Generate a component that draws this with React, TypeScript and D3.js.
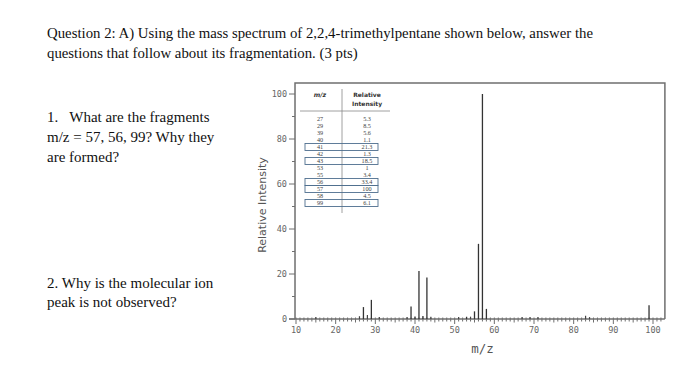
import React from "react";
import * as d3 from "d3";

const titleLines = [
  "Question 2: A) Using the mass spectrum of 2,2,4-trimethylpentane shown below, answer the",
  "questions that follow about its fragmentation. (3 pts)",
];
const q1Lines = ["1.   What are the fragments", "m/z = 57, 56, 99? Why they", "are formed?"];
const q2Lines = ["2. Why is the molecular ion", "peak is not observed?"];

const mzValues = [27, 29, 39, 40, 41, 42, 43, 53, 55, 56, 57, 58, 99];
const intensities = [5.3, 8.5, 5.6, 1.1, 21.3, 1.3, 18.5, 1, 3.4, 33.4, 100, 4.5, 6.1];
const intensityLabels = ["5.3", "8.5", "5.6", "1.1", "21.3", "1.3", "18.5", "1", "3.4", "33.4", "100", "4.5", "6.1"];
const smallMz = [15, 26, 28, 31, 38, 44, 51, 54, 67, 69, 71, 83, 84];
const smallIntensity = [0.5, 0.8, 1.3, 0.4, 0.5, 0.6, 0.4, 0.6, 0.5, 0.4, 0.5, 1.0, 0.4];
const highlightedMz = [41, 43, 56, 57, 99];
const yTicks = [0, 20, 40, 60, 80, 100];
const yMinorTicks = [10, 30, 50, 70, 90];
const xTicks = [10, 20, 30, 40, 50, 60, 70, 80, 90, 100];

export default function App() {
  const x = d3.scaleLinear().domain([10, 100]).range([296, 653]);
  const y = d3.scaleLinear().domain([0, 100]).range([319, 94]);
  const left = x(9.75);
  const right = x(103);
  const top = y(104.9);
  const bottom = y(0);
  const minorX = d3.range(10, 103, 1);
  const axisGray = "#6f6f6f";
  const textGray = "#555";

  const rowY = (i: number) => 119 + i * 7;
  const tableLeft = 300;
  const tableRight = 390;
  const divX = 342;

  return (
    <svg
      width={700}
      height={375}
      style={{ position: "absolute", left: 0, top: 0, background: "#fff" }}
    >
      <rect width={700} height={375} fill="#fff" />
      {titleLines.map((t, i) => (
        <text key={t} x={47} y={38 + i * 20} fontFamily="Liberation Serif" fontSize={14.8} fill="#111">
          {t}
        </text>
      ))}
      {q1Lines.map((t, i) => (
        <text
          key={t}
          x={47}
          y={122 + i * 20}
          fontFamily="Liberation Serif"
          fontSize={15}
          fill="#111"
          style={{ whiteSpace: "pre" }}
        >
          {t}
        </text>
      ))}
      {q2Lines.map((t, i) => (
        <text key={t} x={47} y={288 + i * 19} fontFamily="Liberation Serif" fontSize={15} fill="#111">
          {t}
        </text>
      ))}

      {/* frame */}
      <path
        d={`M${left},${bottom}V${top}H${right}V${bottom}`}
        fill="none"
        stroke={axisGray}
        strokeWidth={1.5}
      />
      <line x1={left - 6} x2={right} y1={bottom} y2={bottom} stroke={axisGray} strokeWidth={1.5} />

      {/* y ticks */}
      {yTicks.map((v) => (
        <g key={v}>
          <line x1={left - 6} x2={left} y1={y(v)} y2={y(v)} stroke={axisGray} strokeWidth={1} />
          <text
            x={left - 8}
            y={y(v)}
            dy="0.35em"
            textAnchor="end"
            fontFamily="DejaVu Sans Mono"
            fontSize={8.5}
            fill="#666"
          >
            {v}
          </text>
        </g>
      ))}
      {yMinorTicks.map((v) => (
        <line key={v} x1={left - 3} x2={left} y1={y(v)} y2={y(v)} stroke={axisGray} strokeWidth={1} />
      ))}
      <text
        transform={`translate(266,205) rotate(-90)`}
        textAnchor="middle"
        fontFamily="DejaVu Sans"
        fontSize={11}
        fill={textGray}
      >
        Relative Intensity
      </text>

      {/* x ticks */}
      {minorX.map((v) => (
        <line
          key={v}
          x1={x(v)}
          x2={x(v)}
          y1={bottom - 1.5}
          y2={bottom + (v % 10 === 0 ? 5 : v % 5 === 0 ? 3.5 : 2.5)}
          stroke={axisGray}
          strokeWidth={1}
        />
      ))}
      {xTicks.map((v) => (
        <text
          key={v}
          x={x(v)}
          y={bottom + 14}
          textAnchor="middle"
          fontFamily="DejaVu Sans Mono"
          fontSize={8.5}
          fill="#666"
        >
          {v}
        </text>
      ))}
      <text x={x(57)} y={353} textAnchor="middle" fontFamily="DejaVu Sans Mono" fontSize={12.5} fill={textGray}>
        m/z
      </text>

      {/* peaks */}
      {smallMz.map((m, i) => (
        <line key={m} x1={x(m)} x2={x(m)} y1={bottom} y2={y(smallIntensity[i]) - 1} stroke="#444" strokeWidth={1.2} />
      ))}
      {mzValues.map((m, i) => (
        <line key={m} x1={x(m)} x2={x(m)} y1={bottom} y2={y(intensities[i])} stroke="#333" strokeWidth={1.3} />
      ))}

      {/* table */}
      <text x={320} y={97} textAnchor="middle" fontFamily="DejaVu Sans" fontStyle="italic" fontWeight="bold" fontSize={6.2} fill="#333">
        m/z
      </text>
      <text x={367} y={97} textAnchor="middle" fontFamily="DejaVu Sans" fontWeight="bold" fontSize={6} fill="#333">
        Relative
      </text>
      <text x={367} y={106} textAnchor="middle" fontFamily="DejaVu Sans" fontWeight="bold" fontSize={6} fill="#333">
        Intensity
      </text>
      <line x1={tableLeft} x2={tableRight} y1={111} y2={111} stroke="#888" strokeWidth={0.8} />
      <line x1={divX} x2={divX} y1={89} y2={213} stroke="#888" strokeWidth={0.8} />
      {mzValues.map((m, i) => (
        <g key={m}>
          {highlightedMz.includes(m) && (
            <rect
              x={305}
              y={rowY(i) - 3.5}
              width={73}
              height={7}
              fill="none"
              stroke="#4f6f8f"
              strokeWidth={0.9}
            />
          )}
          <text x={320} y={rowY(i)} dy="0.36em" textAnchor="middle" fontFamily="Liberation Serif" fontSize={6.2} fill="#444">
            {m}
          </text>
          <text x={367} y={rowY(i)} dy="0.36em" textAnchor="middle" fontFamily="Liberation Serif" fontSize={6.2} fill="#444">
            {intensityLabels[i]}
          </text>
        </g>
      ))}
    </svg>
  );
}
